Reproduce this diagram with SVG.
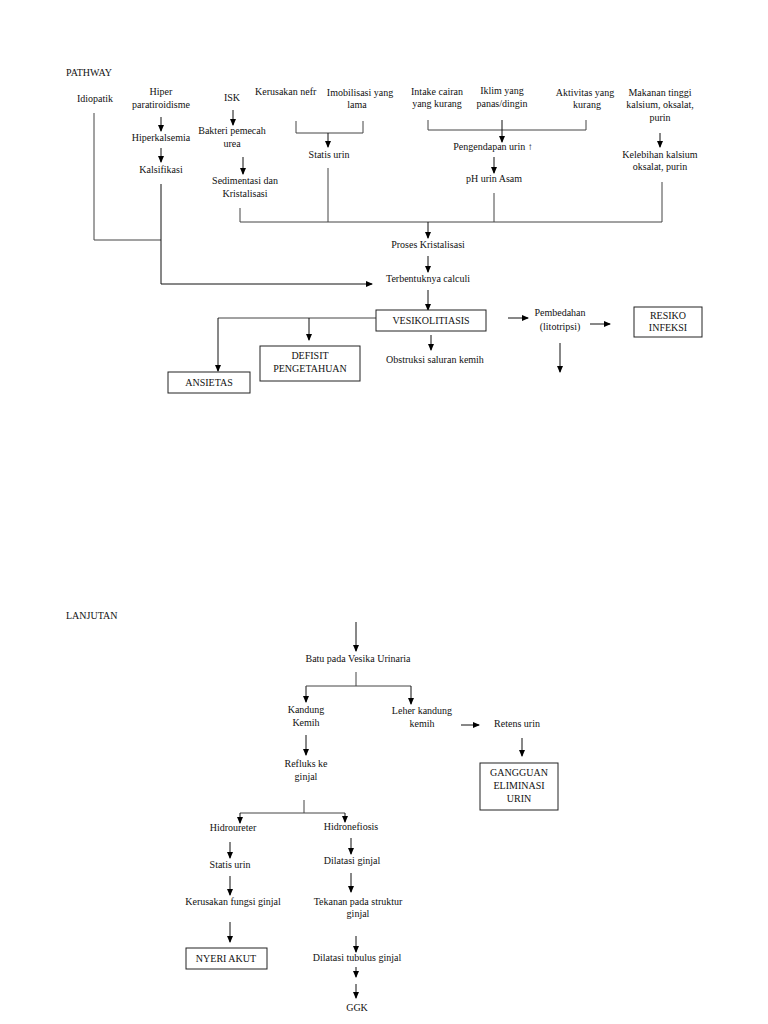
<svg xmlns="http://www.w3.org/2000/svg" width="768" height="1024" viewBox="0 0 768 1024">
<defs>
<marker id="a" markerWidth="8" markerHeight="8" refX="6" refY="4" orient="auto" markerUnits="userSpaceOnUse"><path d="M0,1 L7,4 L0,7 z" fill="#000"/></marker>
<style>
text{font-family:"Liberation Serif",serif;font-size:10px;fill:#111;text-anchor:middle}
.l{text-anchor:start}
.b{fill:#fff;stroke:#222;stroke-width:1}
.c line,.c polyline{stroke:#444;stroke-width:1;fill:none}
.c .ar{stroke:#111;marker-end:url(#a)}
</style>
</defs>
<rect width="768" height="1024" fill="#fff"/>
<text class="l" x="66" y="76">PATHWAY</text>
<g class="c">
<polyline points="94,113 94,240 161,240"/>
<polyline class="ar" points="161,184 161,284 372,284"/>
<line class="ar" x1="161" y1="117" x2="161" y2="131"/>
<line class="ar" x1="161" y1="148" x2="161" y2="162"/>
<line class="ar" x1="233" y1="110" x2="233" y2="125"/>
<line class="ar" x1="243" y1="157" x2="243" y2="174"/>
<polyline points="296,121 296,133 363,133 363,121"/>
<line class="ar" x1="328" y1="133" x2="328" y2="147"/>
<line x1="328" y1="168" x2="328" y2="222"/>
<polyline points="240,208 240,222 662,222 662,182"/>
<polyline points="428,120 428,130 586,130 586,120"/>
<line class="ar" x1="502" y1="120" x2="502" y2="142"/>
<line class="ar" x1="494" y1="157" x2="494" y2="173"/>
<line x1="494" y1="193" x2="494" y2="222"/>
<line class="ar" x1="660" y1="133" x2="660" y2="147"/>
<line class="ar" x1="428" y1="222" x2="428" y2="238"/>
<line class="ar" x1="428" y1="256" x2="428" y2="272"/>
<line class="ar" x1="428" y1="290" x2="428" y2="310"/>
<polyline points="376,318 218,318"/>
<polyline class="ar" points="309,318 309,340"/>
<polyline class="ar" points="218,318 218,371"/>
<line class="ar" x1="431" y1="335" x2="431" y2="350"/>
<line class="ar" x1="508" y1="318" x2="528" y2="318"/>
<line class="ar" x1="590" y1="324" x2="610" y2="324"/>
<line class="ar" x1="560" y1="343" x2="560" y2="372"/>
</g>
<g id="n-idiopatik"><text x="95" y="102">Idiopatik</text></g>
<g id="n-hiper"><text x="161" y="95">Hiper</text><text x="161" y="108">paratiroidisme</text></g>
<g id="n-hiperkalsemia"><text x="161" y="141">Hiperkalsemia</text></g>
<g id="n-kalsifikasi"><text x="161" y="173">Kalsifikasi</text></g>
<g id="n-isk"><text x="232" y="101">ISK</text></g>
<g id="n-bakteri"><text x="232" y="134">Bakteri pemecah</text><text x="232" y="147">urea</text></g>
<g id="n-sedimentasi"><text x="245" y="184">Sedimentasi dan</text><text x="245" y="197">Kristalisasi</text></g>
<g id="n-kerusakan"><text class="l" x="255" y="95">Kerusakan nefr</text></g>
<g id="n-imobilisasi"><text x="360" y="96">Imobilisasi yang</text><text x="357" y="108">lama</text></g>
<g id="n-statis"><text x="329" y="158">Statis urin</text></g>
<g id="n-intake"><text x="437" y="95">Intake cairan</text><text x="437" y="107">yang kurang</text></g>
<g id="n-iklim"><text x="502" y="94">Iklim yang</text><text x="502" y="107">panas/dingin</text></g>
<g id="n-aktivitas"><text x="585" y="96">Aktivitas yang</text><text x="587" y="108">kurang</text></g>
<g id="n-makanan"><text x="660" y="96">Makanan tinggi</text><text x="660" y="108">kalsium, oksalat,</text><text x="660" y="121">purin</text></g>
<g id="n-pengendapan"><text x="493" y="150">Pengendapan urin ↑</text></g>
<g id="n-ph"><text x="494" y="182">pH urin Asam</text></g>
<g id="n-kelebihan"><text x="660" y="158">Kelebihan kalsium</text><text x="660" y="170">oksalat, purin</text></g>
<g id="n-proses"><text x="428" y="248">Proses Kristalisasi</text></g>
<g id="n-terbentuk"><text x="428" y="282">Terbentuknya calculi</text></g>
<g id="n-vesiko"><rect class="b" x="376" y="310" width="110" height="21"/><text x="431" y="324">VESIKOLITIASIS</text></g>
<g id="n-ansietas"><rect class="b" x="168" y="372" width="82" height="21"/><text x="209" y="386">ANSIETAS</text></g>
<g id="n-defisit"><rect class="b" x="260" y="346" width="100" height="35"/><text x="310" y="359">DEFISIT</text><text x="310" y="372">PENGETAHUAN</text></g>
<g id="n-obstruksi"><text x="435" y="363">Obstruksi saluran kemih</text></g>
<g id="n-pembedahan"><text x="560" y="316">Pembedahan</text><text x="560" y="330">(litotripsi)</text></g>
<g id="n-resiko"><rect class="b" x="634" y="307" width="68" height="30"/><text x="668" y="319">RESIKO</text><text x="668" y="331">INFEKSI</text></g>

<text class="l" x="66" y="619">LANJUTAN</text>
<g class="c">
<line class="ar" x1="356" y1="622" x2="356" y2="651"/>
<line x1="356" y1="672" x2="356" y2="686"/>
<polyline class="ar" points="306,686 306,702"/>
<polyline points="306,686 411,686"/>
<line class="ar" x1="411" y1="686" x2="411" y2="704"/>
<line class="ar" x1="461" y1="725" x2="479" y2="725"/>
<line class="ar" x1="522" y1="738" x2="522" y2="756"/>
<line class="ar" x1="306" y1="735" x2="306" y2="755"/>
<line x1="304" y1="800" x2="304" y2="813"/>
<polyline points="240,813 345,813"/>
<line class="ar" x1="240" y1="813" x2="240" y2="823"/>
<line class="ar" x1="345" y1="813" x2="345" y2="822"/>
<line class="ar" x1="230" y1="842" x2="230" y2="858"/>
<line class="ar" x1="230" y1="876" x2="230" y2="895"/>
<line class="ar" x1="230" y1="922" x2="230" y2="942"/>
<line class="ar" x1="351" y1="838" x2="351" y2="854"/>
<line class="ar" x1="351" y1="873" x2="351" y2="892"/>
<line class="ar" x1="356" y1="936" x2="356" y2="952"/>
<line class="ar" x1="356" y1="967" x2="356" y2="977"/>
<line class="ar" x1="356" y1="984" x2="356" y2="998"/>
</g>
<g id="m-batu"><text x="358" y="662">Batu pada Vesika Urinaria</text></g>
<g id="m-kandung"><text x="306" y="713">Kandung</text><text x="306" y="726">Kemih</text></g>
<g id="m-leher"><text x="422" y="714">Leher kandung</text><text x="422" y="727">kemih</text></g>
<g id="m-retens"><text x="517" y="727">Retens urin</text></g>
<g id="m-gangguan"><rect class="b" x="480" y="763" width="78" height="47"/><text x="519" y="776">GANGGUAN</text><text x="519" y="789">ELIMINASI</text><text x="519" y="802">URIN</text></g>
<g id="m-refluks"><text x="306" y="767">Refluks ke</text><text x="306" y="780">ginjal</text></g>
<g id="m-hidroureter"><text x="233" y="831">Hidroureter</text></g>
<g id="m-statis"><text x="230" y="868">Statis urin</text></g>
<g id="m-kerusakan"><text x="233" y="905">Kerusakan fungsi ginjal</text></g>
<g id="m-nyeri"><rect class="b" x="186" y="948" width="81" height="21"/><text x="226" y="962">NYERI AKUT</text></g>
<g id="m-hidronefrosis"><text x="351" y="830">Hidronefiosis</text></g>
<g id="m-dilatasi"><text x="352" y="864">Dilatasi ginjal</text></g>
<g id="m-tekanan"><text x="358" y="905">Tekanan pada struktur</text><text x="358" y="917">ginjal</text></g>
<g id="m-tubulus"><text x="357" y="961">Dilatasi tubulus ginjal</text></g>
<g id="m-ggk"><text x="357" y="1011">GGK</text></g>
</svg>
